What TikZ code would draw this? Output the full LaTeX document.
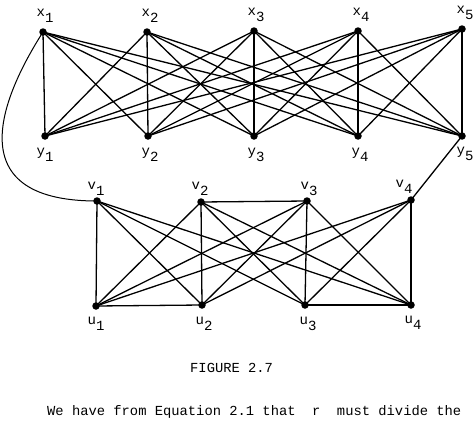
\documentclass[tikz,border=0pt]{standalone}
\usepackage{fontspec}
\setmainfont{Liberation Mono}
\newcommand\lbl[2]{#1\raisebox{-0.8ex}{#2}}
\tikzset{
  dot/.style={circle,fill=black,inner sep=0pt,minimum size=7.5pt},
  lab/.style={inner sep=0pt,font=\fontsize{14}{14}\selectfont},
  edge/.style={line width=1.3pt},
  txt/.style={inner sep=0pt,anchor=base west,font=\fontsize{13.8}{14}\selectfont}
}
\begin{document}
\begin{tikzpicture}[x=1pt,y=-1pt]
\useasboundingbox (0,0) rectangle (474,431);
% top vertices
\node[dot] (x1) at (43,32) {};
\node[dot] (x2) at (147,32) {};
\node[dot] (x3) at (254,31) {};
\node[dot] (x4) at (358,31) {};
\node[dot] (x5) at (462,29) {};
\node[dot] (y1) at (45,136) {};
\node[dot] (y2) at (148,136) {};
\node[dot] (y3) at (254,136) {};
\node[dot] (y4) at (358,136) {};
\node[dot] (y5) at (462,136) {};
% bottom vertices
\node[dot] (v1) at (97,201) {};
\node[dot] (v2) at (201,202) {};
\node[dot] (v3) at (307,201) {};
\node[dot] (v4) at (411,200) {};
\node[dot] (u1) at (96,306) {};
\node[dot] (u2) at (202,305) {};
\node[dot] (u3) at (305,305) {};
\node[dot] (u4) at (411,305) {};
% labels
\node[lab] (lx1) at (45,16) {\lbl{x}{1}};
\node[lab] (lx2) at (150,16) {\lbl{x}{2}};
\node[lab] (lx3) at (256,15) {\lbl{x}{3}};
\node[lab] (lx4) at (361,15) {\lbl{x}{4}};
\node[lab] (lx5) at (465,13) {\lbl{x}{5}};
\node[lab] (ly1) at (45,155) {\lbl{y}{1}};
\node[lab] (ly2) at (150,155) {\lbl{y}{2}};
\node[lab] (ly3) at (256,155) {\lbl{y}{3}};
\node[lab] (ly4) at (360,155) {\lbl{y}{4}};
\node[lab] (ly5) at (465,154) {\lbl{y}{5}};
\node[lab] (lv1) at (96,189) {\lbl{v}{1}};
\node[lab] (lv2) at (200,189) {\lbl{v}{2}};
\node[lab] (lv3) at (309,189) {\lbl{v}{3}};
\node[lab] (lv4) at (404,187) {\lbl{v}{4}};
\node[lab] (lu1) at (96,324) {\lbl{u}{1}};
\node[lab] (lu2) at (204,324) {\lbl{u}{2}};
\node[lab] (lu3) at (308,324) {\lbl{u}{3}};
\node[lab] (lu4) at (413,323) {\lbl{u}{4}};
% edges top
\foreach \i in {1,...,5}{
  \foreach \j in {1,...,5}{
    \draw[edge] (x\i.center) -- (y\j.center);
  }
}
% edges bottom
\foreach \i in {1,...,4}{
  \foreach \j in {1,...,4}{
    \draw[edge] (v\i.center) -- (u\j.center);
  }
}
\draw[edge] (v2.center) -- (v3.center);
\draw[edge] (u1.center) -- (u2.center);
\draw[edge] (u3.center) -- (u4.center);
\draw[edge] (y5.center) -- (v4.center);
\draw[line width=1pt] (x1.center) .. controls (6,90) and (-47,201) .. (v1.center);
% captions
\node[txt] (cap) at (190,372) {FIGURE 2.7};
\node[txt] (body) at (47,415) {We have from Equation 2.1 that\ \ r\ \ must divide the};
\end{tikzpicture}
\end{document}
